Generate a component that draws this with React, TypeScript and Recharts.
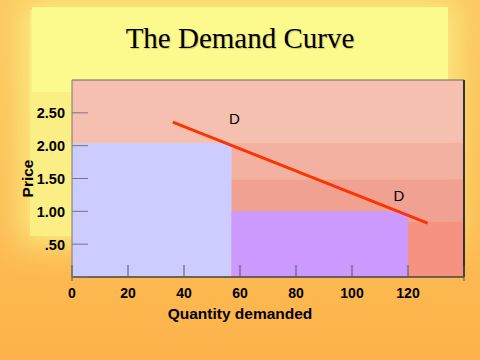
import {
  ComposedChart,
  Line,
  XAxis,
  YAxis,
  ReferenceArea,
  ReferenceDot,
  ReferenceLine,
} from 'recharts';

const quantityTicks = [0, 20, 40, 60, 80, 100, 120, 140];
const priceTicks = [0, 0.5, 1, 1.5, 2, 2.5];
const priceLabels = ['', '.50', '1.00', '1.50', '2.00', '2.50'];

// demand line end points
const demandQuantity = [36, 127];
const demandPrice = [2.36, 0.82];

// horizontal background bands of the plot
const bandEdges = [3, 2.05, 1.49, 0.85, 0];
const bandColors = ['#F5C0B0', '#F3B1A1', '#F1A191', '#F59282'];

// shaded boxes under the curve
const boxQuantity = [57, 120];
const boxPrice = [2.04, 1.0];
const boxColors = ['#CCCCFF', '#CC99FF'];

// "D" labels
const labelQuantity = [58, 116.8];
const labelPrice = [2.41, 1.24];

const data = demandQuantity.map((q, i) => ({ q, p: demandPrice[i] }));

const FONT = '"Liberation Sans", Arial, sans-serif';

const XTick = (props: any) => {
  const { x, y, payload } = props;
  const v = payload.value;
  const edge = v === 0 || v === 140;
  return (
    <g>
      <line x1={x} x2={x} y1={y - 12} y2={edge ? y + 4 : y} stroke="#555" />
      {v !== 140 && (
        <text x={x} y={y + 21} textAnchor="middle" fontSize={14} fontWeight="bold" fill="#000" fontFamily={FONT}>
          {v}
        </text>
      )}
    </g>
  );
};

const YTick = (props: any) => {
  const { x, y, payload, index } = props;
  return (
    <g>
      <line x1={x} x2={x + 16} y1={y} y2={y} stroke="#777" />
      <text x={x - 7} y={y + 5.5} textAnchor="end" fontSize={14.5} fontWeight="bold" fill="#000" fontFamily={FONT}>
        {priceLabels[index] ?? ''}
      </text>
    </g>
  );
};

const App = () => {
  return (
    <div
      style={{
        position: 'absolute',
        left: 0,
        top: 0,
        width: 480,
        height: 360,
        overflow: 'hidden',
        background: 'linear-gradient(to bottom, #FCC862 0%, #FCBE56 60%, #FDB24A 100%)',
      }}
    >
      {/* soft yellow glow behind title and axes */}
      <div
        style={{
          position: 'absolute',
          left: 30,
          top: 10,
          width: 418,
          height: 226,
          background: '#FAEE84',
          boxShadow: '0 0 30px 8px #FAEE84',
        }}
      />
      <div
        style={{
          position: 'absolute',
          left: 32,
          top: 7,
          width: 416,
          height: 85,
          background: '#FCFA8C',
        }}
      />
      <div
        style={{
          position: 'absolute',
          left: 0,
          top: 24,
          width: 480,
          textAlign: 'center',
          fontFamily: '"Liberation Serif", "Times New Roman", serif',
          fontSize: 29,
          lineHeight: '29px',
          color: '#000',
          textShadow: '1px 1px 1px rgba(0,0,0,0.2)',
        }}
      >
        The Demand Curve
      </div>
      <div style={{ position: 'absolute', left: 0, top: 0 }}>
        <ComposedChart width={480} height={360} data={data} margin={{ top: 80, right: 16, left: 0, bottom: 0 }}>
          <XAxis
            dataKey="q"
            type="number"
            domain={[0, 140]}
            ticks={quantityTicks}
            interval={0}
            height={83}
            tickSize={0}
            tickMargin={0}
            tickLine={false}
            tick={<XTick />}
            axisLine={{ stroke: '#444', strokeWidth: 1.5 }}
            label={{
              position: 'insideBottom',
              content: ({ viewBox }: any) => (
                <text
                  x={viewBox.x + viewBox.width / 2 - 28}
                  y={viewBox.y + 42}
                  textAnchor="middle"
                  fontSize={15.5}
                  fontWeight="bold"
                  fill="#000"
                  fontFamily={FONT}
                >
                  Quantity demanded
                </text>
              ),
            }}
          />
          <YAxis
            type="number"
            domain={[0, 3]}
            ticks={priceTicks}
            interval={0}
            width={72}
            tickSize={0}
            tickMargin={0}
            tickLine={false}
            tick={<YTick />}
            axisLine={{ stroke: '#777' }}
            label={{
              position: 'insideLeft',
              content: ({ viewBox }: any) => (
                <text
                  transform={`translate(${viewBox.x + 33}, ${viewBox.y + viewBox.height / 2}) rotate(-90)`}
                  textAnchor="middle"
                  fontSize={15.5}
                  fontWeight="bold"
                  fill="#000"
                  fontFamily={FONT}
                >
                  Price
                </text>
              ),
            }}
          />
          {bandColors.map((c, i) => (
            <ReferenceArea
              key={`band-${i}`}
              x1={0}
              x2={140}
              y1={bandEdges[i + 1]}
              y2={bandEdges[i]}
              fill={c}
              fillOpacity={1}
              stroke="none"
            />
          ))}
          {boxColors.map((c, i) => (
            <ReferenceArea
              key={`box-${i}`}
              x1={i === 0 ? 0 : boxQuantity[i - 1]}
              x2={boxQuantity[i]}
              y1={0}
              y2={boxPrice[i]}
              fill={c}
              fillOpacity={1}
              stroke="none"
            />
          ))}
          <ReferenceLine y={3} stroke="#666" />
          <ReferenceLine x={140} stroke="#333" strokeWidth={2} />
          <Line
            dataKey="p"
            type="linear"
            stroke="#FF3300"
            strokeWidth={3}
            dot={false}
            activeDot={false}
            isAnimationActive={false}
          />
          {labelQuantity.map((q, i) => (
            <ReferenceDot
              key={`lab-${i}`}
              x={q}
              y={labelPrice[i]}
              r={0}
              fill="none"
              stroke="none"
              label={{ value: 'D', position: 'center', fontSize: 15, fill: '#000', fontFamily: FONT }}
            />
          ))}
        </ComposedChart>
      </div>
    </div>
  );
};

export default App;
